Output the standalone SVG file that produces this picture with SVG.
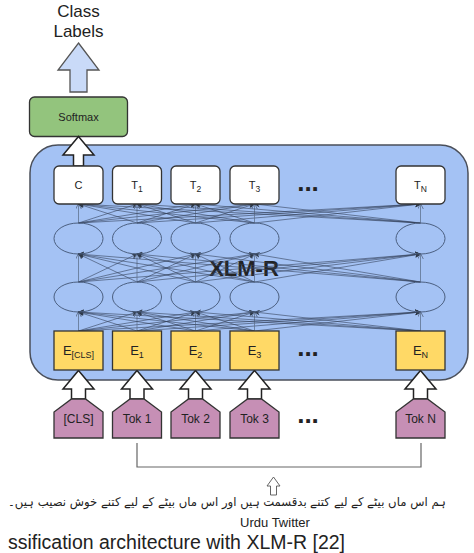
<svg xmlns="http://www.w3.org/2000/svg" width="474" height="553" viewBox="0 0 474 553">
<defs>
<marker id="ah" viewBox="0 0 10 10" refX="9" refY="5" markerWidth="6" markerHeight="6" orient="auto" markerUnits="userSpaceOnUse">
<path d="M0,0 L10,5 L0,10 L3,5 z" fill="#2f3a4a"/>
</marker>
<marker id="av" viewBox="0 0 10 10" refX="9" refY="5" markerWidth="6" markerHeight="6" orient="auto" markerUnits="userSpaceOnUse">
<path d="M0,0 L10,5 L0,10" fill="none" stroke="#5f7090" stroke-width="1.5"/>
</marker>
</defs>
<style>
text{font-family:"Liberation Sans",Arial,sans-serif;fill:#222}
.box{fill:#fff;stroke:#333;stroke-width:1.3}
.emb{fill:#ffd966;stroke:#333;stroke-width:1.3}
.tok{fill:#c68fb5;stroke:#333;stroke-width:1.3}
.ell{fill:none;stroke:#4b5f80;stroke-width:1}
.wa{fill:#fff;stroke:#222;stroke-width:1.5;stroke-linejoin:miter}
.c{stroke:#34425a;stroke-width:0.8;stroke-opacity:0.75;fill:none;marker-end:url(#ah)}
.v{stroke:#60728f;stroke-width:0.8;fill:none;marker-end:url(#av)}
.lbl{font-size:11px;text-anchor:middle}
.dots{font-size:26px;font-weight:bold;text-anchor:middle;fill:#222}
</style>
<rect width="474" height="553" fill="#fff"/>

<g id="class-labels">
<text x="78.5" y="17" font-size="17" text-anchor="middle" fill="#333">Class</text>
<text x="78.5" y="37" font-size="17" text-anchor="middle" fill="#333">Labels</text>
<path d="M78.5,43 L99,70 L87,70 L87,92 L70,92 L70,70 L58,70 Z" fill="#c9daf8" stroke="#555" stroke-width="1.3"/>
</g>

<g id="softmax">
<rect x="29.5" y="97" width="98" height="39.5" rx="5" fill="#93c47d" stroke="#333" stroke-width="1.3"/>
<text x="78.5" y="121" font-size="11" text-anchor="middle">Softmax</text>
</g>

<g id="xlmr">
<rect x="30" y="145" width="438" height="235" rx="28" fill="#a4c2f4" stroke="#4a4f5a" stroke-width="1.5"/>
<text x="244" y="276" font-size="22" font-weight="bold" text-anchor="middle" fill="#111">XLM-R</text>
</g>

<g id="arrow-softmax">
<path d="M78.5,136.5 L94,155 L83.5,155 L83.5,166 L73.5,166 L73.5,155 L63,155 Z" class="wa"/>
</g>

<g id="connectors">
<g>
<line class="v" x1="78.5" y1="331" x2="78.5" y2="312"/>
<line class="c" x1="78.5" y1="331" x2="137" y2="312"/>
<line class="c" x1="78.5" y1="331" x2="195.5" y2="312"/>
<line class="c" x1="78.5" y1="331" x2="254.5" y2="312"/>
<line class="c" x1="78.5" y1="331" x2="420.5" y2="312"/>
<line class="c" x1="137" y1="331" x2="78.5" y2="312"/>
<line class="v" x1="137" y1="331" x2="137" y2="312"/>
<line class="c" x1="137" y1="331" x2="195.5" y2="312"/>
<line class="c" x1="137" y1="331" x2="254.5" y2="312"/>
<line class="c" x1="137" y1="331" x2="420.5" y2="312"/>
<line class="c" x1="195.5" y1="331" x2="78.5" y2="312"/>
<line class="c" x1="195.5" y1="331" x2="137" y2="312"/>
<line class="v" x1="195.5" y1="331" x2="195.5" y2="312"/>
<line class="c" x1="195.5" y1="331" x2="254.5" y2="312"/>
<line class="c" x1="195.5" y1="331" x2="420.5" y2="312"/>
<line class="c" x1="254.5" y1="331" x2="78.5" y2="312"/>
<line class="c" x1="254.5" y1="331" x2="137" y2="312"/>
<line class="c" x1="254.5" y1="331" x2="195.5" y2="312"/>
<line class="v" x1="254.5" y1="331" x2="254.5" y2="312"/>
<line class="c" x1="254.5" y1="331" x2="420.5" y2="312"/>
<line class="c" x1="420.5" y1="331" x2="78.5" y2="312"/>
<line class="c" x1="420.5" y1="331" x2="137" y2="312"/>
<line class="c" x1="420.5" y1="331" x2="195.5" y2="312"/>
<line class="c" x1="420.5" y1="331" x2="254.5" y2="312"/>
<line class="v" x1="420.5" y1="331" x2="420.5" y2="312"/>
</g>
<g>
<line class="v" x1="78.5" y1="282" x2="78.5" y2="254"/>
<line class="c" x1="78.5" y1="282" x2="137" y2="254"/>
<line class="c" x1="78.5" y1="282" x2="195.5" y2="254"/>
<line class="c" x1="78.5" y1="282" x2="254.5" y2="254"/>
<line class="c" x1="78.5" y1="282" x2="420.5" y2="254"/>
<line class="c" x1="137" y1="282" x2="78.5" y2="254"/>
<line class="v" x1="137" y1="282" x2="137" y2="254"/>
<line class="c" x1="137" y1="282" x2="195.5" y2="254"/>
<line class="c" x1="137" y1="282" x2="254.5" y2="254"/>
<line class="c" x1="137" y1="282" x2="420.5" y2="254"/>
<line class="c" x1="195.5" y1="282" x2="78.5" y2="254"/>
<line class="c" x1="195.5" y1="282" x2="137" y2="254"/>
<line class="v" x1="195.5" y1="282" x2="195.5" y2="254"/>
<line class="c" x1="195.5" y1="282" x2="254.5" y2="254"/>
<line class="c" x1="195.5" y1="282" x2="420.5" y2="254"/>
<line class="c" x1="254.5" y1="282" x2="78.5" y2="254"/>
<line class="c" x1="254.5" y1="282" x2="137" y2="254"/>
<line class="c" x1="254.5" y1="282" x2="195.5" y2="254"/>
<line class="v" x1="254.5" y1="282" x2="254.5" y2="254"/>
<line class="c" x1="254.5" y1="282" x2="420.5" y2="254"/>
<line class="c" x1="420.5" y1="282" x2="78.5" y2="254"/>
<line class="c" x1="420.5" y1="282" x2="137" y2="254"/>
<line class="c" x1="420.5" y1="282" x2="195.5" y2="254"/>
<line class="c" x1="420.5" y1="282" x2="254.5" y2="254"/>
<line class="v" x1="420.5" y1="282" x2="420.5" y2="254"/>
</g>
<g>
<line class="v" x1="78.5" y1="223" x2="78.5" y2="204"/>
<line class="c" x1="78.5" y1="223" x2="137" y2="204"/>
<line class="c" x1="78.5" y1="223" x2="195.5" y2="204"/>
<line class="c" x1="78.5" y1="223" x2="254.5" y2="204"/>
<line class="c" x1="78.5" y1="223" x2="420.5" y2="204"/>
<line class="c" x1="137" y1="223" x2="78.5" y2="204"/>
<line class="v" x1="137" y1="223" x2="137" y2="204"/>
<line class="c" x1="137" y1="223" x2="195.5" y2="204"/>
<line class="c" x1="137" y1="223" x2="254.5" y2="204"/>
<line class="c" x1="137" y1="223" x2="420.5" y2="204"/>
<line class="c" x1="195.5" y1="223" x2="78.5" y2="204"/>
<line class="c" x1="195.5" y1="223" x2="137" y2="204"/>
<line class="v" x1="195.5" y1="223" x2="195.5" y2="204"/>
<line class="c" x1="195.5" y1="223" x2="254.5" y2="204"/>
<line class="c" x1="195.5" y1="223" x2="420.5" y2="204"/>
<line class="c" x1="254.5" y1="223" x2="78.5" y2="204"/>
<line class="c" x1="254.5" y1="223" x2="137" y2="204"/>
<line class="c" x1="254.5" y1="223" x2="195.5" y2="204"/>
<line class="v" x1="254.5" y1="223" x2="254.5" y2="204"/>
<line class="c" x1="254.5" y1="223" x2="420.5" y2="204"/>
<line class="c" x1="420.5" y1="223" x2="78.5" y2="204"/>
<line class="c" x1="420.5" y1="223" x2="137" y2="204"/>
<line class="c" x1="420.5" y1="223" x2="195.5" y2="204"/>
<line class="c" x1="420.5" y1="223" x2="254.5" y2="204"/>
<line class="v" x1="420.5" y1="223" x2="420.5" y2="204"/>
</g>
<path d="M78.5,370.5 L94,389 L85.5,389 L85.5,399 L71.5,399 L71.5,389 L63,389 Z" class="wa"/>
<path d="M137,370.5 L152.5,389 L144,389 L144,399 L130,399 L130,389 L121.5,389 Z" class="wa"/>
<path d="M195.5,370.5 L211,389 L202.5,389 L202.5,399 L188.5,399 L188.5,389 L180,389 Z" class="wa"/>
<path d="M254.5,370.5 L270,389 L261.5,389 L261.5,399 L247.5,399 L247.5,389 L239,389 Z" class="wa"/>
<path d="M420.5,370.5 L436,389 L427.5,389 L427.5,399 L413.5,399 L413.5,389 L405,389 Z" class="wa"/>
<path d="M137,443 L137,467 L421,467 L421,443" fill="none" stroke="#666" stroke-width="1.2"/>
<path d="M273.5,477 L280,486 L276.5,486 L276.5,495 L270.5,495 L270.5,486 L267,486 Z" fill="#fff" stroke="#555" stroke-width="0.9"/>
</g>

<g id="top-row">
<g id="t-c"><rect class="box" x="54" y="166" width="49" height="38" rx="5"/><text class="lbl" x="78.5" y="189">C</text></g>
<g id="t-1"><rect class="box" x="112.5" y="166" width="49" height="38" rx="5"/><text class="lbl" x="137" y="189">T<tspan font-size="8.5" dy="3">1</tspan></text></g>
<g id="t-2"><rect class="box" x="171" y="166" width="49" height="38" rx="5"/><text class="lbl" x="195.5" y="189">T<tspan font-size="8.5" dy="3">2</tspan></text></g>
<g id="t-3"><rect class="box" x="230" y="166" width="49" height="38" rx="5"/><text class="lbl" x="254.5" y="189">T<tspan font-size="8.5" dy="3">3</tspan></text></g>
<g id="t-n"><rect class="box" x="396" y="166" width="49" height="38" rx="5"/><text class="lbl" x="420.5" y="189">T<tspan font-size="8.5" dy="3">N</tspan></text></g>
<text class="dots" x="308" y="191">...</text>
</g>

<g id="hidden-1">
<ellipse class="ell" cx="78.5" cy="238.5" rx="24.5" ry="15.5"/>
<ellipse class="ell" cx="137" cy="238.5" rx="24.5" ry="15.5"/>
<ellipse class="ell" cx="195.5" cy="238.5" rx="24.5" ry="15.5"/>
<ellipse class="ell" cx="254.5" cy="238.5" rx="24.5" ry="15.5"/>
<ellipse class="ell" cx="420.5" cy="238.5" rx="24.5" ry="15.5"/>
</g>
<g id="hidden-2">
<ellipse class="ell" cx="78.5" cy="297" rx="24.5" ry="15"/>
<ellipse class="ell" cx="137" cy="297" rx="24.5" ry="15"/>
<ellipse class="ell" cx="195.5" cy="297" rx="24.5" ry="15"/>
<ellipse class="ell" cx="254.5" cy="297" rx="24.5" ry="15"/>
<ellipse class="ell" cx="420.5" cy="297" rx="24.5" ry="15"/>
</g>

<g id="embeddings">
<g id="e-cls"><rect class="emb" x="54" y="331" width="49" height="39"/><text x="78.5" y="355" font-size="13" text-anchor="middle">E<tspan font-size="9" dy="3">[CLS]</tspan></text></g>
<g id="e-1"><rect class="emb" x="112.5" y="331" width="49" height="39"/><text x="137" y="355" font-size="13" text-anchor="middle">E<tspan font-size="9" dy="3">1</tspan></text></g>
<g id="e-2"><rect class="emb" x="171" y="331" width="49" height="39"/><text x="195.5" y="355" font-size="13" text-anchor="middle">E<tspan font-size="9" dy="3">2</tspan></text></g>
<g id="e-3"><rect class="emb" x="230" y="331" width="49" height="39"/><text x="254.5" y="355" font-size="13" text-anchor="middle">E<tspan font-size="9" dy="3">3</tspan></text></g>
<g id="e-n"><rect class="emb" x="396" y="331" width="49" height="39"/><text x="420.5" y="355" font-size="13" text-anchor="middle">E<tspan font-size="9" dy="3">N</tspan></text></g>
<text class="dots" x="308" y="356">...</text>
</g>

<g id="tokens">
<g id="tok-cls"><path class="tok" d="M71.5,399 L85.5,399 L103,412 L103,438 L54,438 L54,412 Z"/><text x="78.5" y="423" font-size="12" text-anchor="middle">[CLS]</text></g>
<g id="tok-1"><path class="tok" d="M130,399 L144,399 L161.5,412 L161.5,438 L112.5,438 L112.5,412 Z"/><text x="137" y="423" font-size="12" text-anchor="middle">Tok 1</text></g>
<g id="tok-2"><path class="tok" d="M188.5,399 L202.5,399 L220,412 L220,438 L171,438 L171,412 Z"/><text x="195.5" y="423" font-size="12" text-anchor="middle">Tok 2</text></g>
<g id="tok-3"><path class="tok" d="M247.5,399 L261.5,399 L279,412 L279,438 L230,438 L230,412 Z"/><text x="254.5" y="423" font-size="12" text-anchor="middle">Tok 3</text></g>
<g id="tok-n"><path class="tok" d="M413.5,399 L427.5,399 L445,412 L445,438 L396,438 L396,412 Z"/><text x="420.5" y="423" font-size="12" text-anchor="middle">Tok N</text></g>
<text class="dots" x="308" y="423">...</text>
</g>

<g id="input">
<text x="227" y="506" font-size="12" text-anchor="middle" textLength="438" lengthAdjust="spacingAndGlyphs" style="font-family:'DejaVu Sans','Noto Sans',sans-serif" fill="#111">ہم اس ماں بیٹے کے لیے کتنے بدقسمت ہیں اور اس ماں بیٹے کے لیے کتنے خوش نصیب ہیں۔</text>
<text x="275" y="527" font-size="13" text-anchor="middle" fill="#222">Urdu Twitter</text>
</g>

<text x="345" y="549" font-size="19.5" text-anchor="end" fill="#111">ssification architecture with XLM-R [22]</text>
</svg>
